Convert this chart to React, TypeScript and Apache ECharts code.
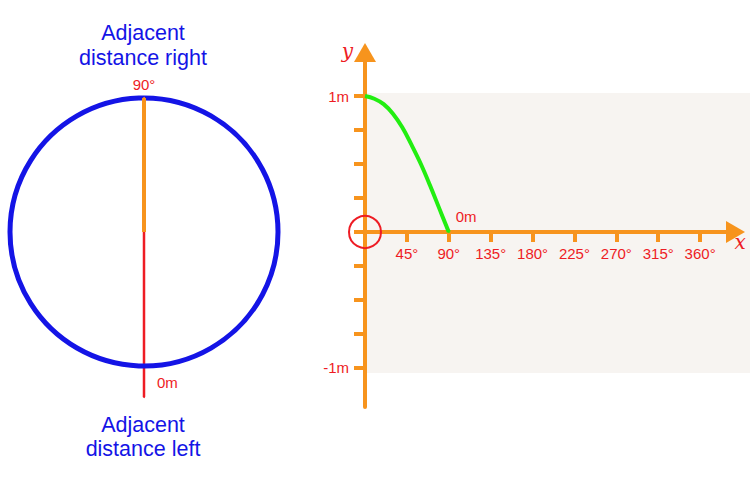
import React, { useEffect, useRef } from 'react';
import * as echarts from 'echarts';

const ORANGE = '#f7941d';
const RED = '#ee1c24';
const BLUE = '#1414e6';
const GREEN = '#22ee11';

// right-hand chart
const xTickValues = [45, 90, 135, 180, 225, 270, 315, 360];
const yTickValues = [-1, -0.75, -0.5, -0.25, 0, 0.25, 0.5, 0.75, 1];
const yLabelValues = [-1, 1];
const curveAngles = [0, 10, 20, 30, 40, 50, 60, 70, 80, 90];
const curveValues = [1, 0.98, 0.94, 0.87, 0.77, 0.64, 0.5, 0.34, 0.17, 0];
const origin = [[0, 0]];

// left-hand circle, [radius, angle]
const rightSegment = [[0, 90], [1, 90]];
const leftSegment = [[0, 270], [1.23, 270]];
const topLabel = '90°';
const bottomLabel = '0m';
const topTitle = ['Adjacent', 'distance right'];
const bottomTitle = ['Adjacent', 'distance left'];

const titleText = (text: string, y: number) => ({
  type: 'text',
  x: 143,
  y,
  style: {
    text,
    fill: BLUE,
    font: '21.5px "Liberation Sans", Arial, sans-serif',
    textAlign: 'center',
    textVerticalAlign: 'middle'
  }
});

const App: React.FC = () => {
  const chartRef = useRef<HTMLDivElement>(null);

  useEffect(() => {
    if (!chartRef.current) return;
    const chart = echarts.init(chartRef.current, undefined, { renderer: 'svg' });

    const curveData: any[] = curveAngles.map((a, i) => [a, curveValues[i]]);
    const last = curveData.length - 1;
    curveData[last] = {
      value: curveData[last],
      symbol: 'circle',
      symbolSize: 2,
      label: {
        show: true,
        formatter: '0m',
        position: 'right',
        distance: 6,
        offset: [0, -15],
        color: RED,
        fontSize: 15
      }
    };

    const option: echarts.EChartsOption = {
      animation: false,
      textStyle: { fontFamily: 'Liberation Sans, Arial, sans-serif' },
      graphic: [
        titleText(topTitle[0], 33),
        titleText(topTitle[1], 57.5),
        titleText(bottomTitle[0], 424.5),
        titleText(bottomTitle[1], 448.5)
      ],
      polar: [
        { center: [144, 232], radius: 134 },
        { center: [144, 232], radius: 165 }
      ],
      angleAxis: [
        {
          polarIndex: 0,
          type: 'value',
          min: 0,
          max: 360,
          startAngle: 0,
          clockwise: false,
          z: 3,
          axisLine: { lineStyle: { color: BLUE, width: 5 } },
          axisTick: { show: false },
          axisLabel: { show: false },
          splitLine: { show: false }
        },
        {
          polarIndex: 1,
          type: 'value',
          min: 0,
          max: 360,
          startAngle: 0,
          clockwise: false,
          show: false
        }
      ],
      radiusAxis: [
        { polarIndex: 0, min: 0, max: 1, show: false },
        { polarIndex: 1, min: 0, max: 1.23, show: false }
      ],
      grid: [
        { left: 365, right: 14.5, top: 52.5, bottom: 93 },
        {
          left: 366,
          right: 0,
          top: 93,
          bottom: 127,
          show: true,
          z: -1,
          backgroundColor: '#f7f4f1',
          borderWidth: 0
        }
      ],
      xAxis: [
        {
          type: 'value',
          min: 0,
          max: 398,
          position: 'bottom',
          offset: -175,
          axisLine: {
            onZero: false,
            lineStyle: { color: ORANGE, width: 4 },
            symbol: ['none', 'triangle'],
            symbolSize: [22, 19]
          },
          axisTick: {
            customValues: xTickValues,
            length: 10,
            lineStyle: { color: ORANGE, width: 4 }
          },
          axisLabel: {
            customValues: xTickValues,
            formatter: (v: number) => `${v}°`,
            color: RED,
            fontSize: 15,
            margin: 14
          },
          splitLine: { show: false },
          name: 'x',
          nameLocation: 'end',
          nameGap: -1,
          nameTextStyle: {
            color: RED,
            fontFamily: 'DejaVu Serif, Liberation Serif, serif',
            fontStyle: 'italic',
            fontSize: 20,
            align: 'left',
            verticalAlign: 'top'
          }
        },
        { gridIndex: 1, type: 'value', show: false }
      ],
      yAxis: [
        {
          type: 'value',
          min: -1.287,
          max: 1.32,
          axisLine: {
            onZero: false,
            lineStyle: { color: ORANGE, width: 4 },
            symbol: ['none', 'triangle'],
            symbolSize: [22, 19]
          },
          axisTick: {
            customValues: yTickValues,
            length: 11,
            lineStyle: { color: ORANGE, width: 4 }
          },
          axisLabel: {
            customValues: yLabelValues,
            formatter: (v: number) => `${v}m`,
            color: RED,
            fontSize: 15,
            margin: 16
          },
          splitLine: { show: false },
          name: 'y',
          nameLocation: 'end',
          nameGap: 2,
          nameTextStyle: {
            color: RED,
            fontFamily: 'DejaVu Serif, Liberation Serif, serif',
            fontStyle: 'italic',
            fontSize: 20,
            align: 'right',
            verticalAlign: 'middle',
            padding: [0, 12, 0, 0]
          }
        },
        { gridIndex: 1, type: 'value', show: false }
      ],
      series: [
        {
          type: 'line',
          coordinateSystem: 'polar',
          polarIndex: 1,
          data: leftSegment.map((p, i) =>
            i === leftSegment.length - 1
              ? {
                  value: p,
                  symbol: 'circle',
                  symbolSize: 2,
                  label: {
                    show: true,
                    formatter: bottomLabel,
                    position: 'right',
                    distance: 12,
                    offset: [0, -15],
                    color: RED,
                    fontSize: 15
                  }
                }
              : p
          ),
          symbol: 'none',
          showSymbol: true,
          clip: false,
          z: 2,
          itemStyle: { color: RED },
          lineStyle: { color: RED, width: 2.5 }
        },
        {
          type: 'line',
          coordinateSystem: 'polar',
          polarIndex: 0,
          data: rightSegment.map((p, i) =>
            i === rightSegment.length - 1
              ? {
                  value: p,
                  symbol: 'circle',
                  symbolSize: 2,
                  label: {
                    show: true,
                    formatter: topLabel,
                    position: 'top',
                    distance: 5,
                    color: RED,
                    fontSize: 15
                  }
                }
              : p
          ),
          symbol: 'none',
          showSymbol: true,
          clip: false,
          z: 4,
          itemStyle: { color: ORANGE },
          lineStyle: { color: ORANGE, width: 4, cap: 'butt' }
        },
        {
          type: 'line',
          data: curveData,
          smooth: 0.4,
          symbol: 'none',
          showSymbol: true,
          clip: false,
          itemStyle: { color: GREEN },
          lineStyle: { color: GREEN, width: 4 }
        },
        {
          type: 'scatter',
          data: origin,
          symbol: 'circle',
          symbolSize: 32,
          z: 5,
          itemStyle: {
            color: 'rgba(0,0,0,0)',
            borderColor: RED,
            borderWidth: 2,
            opacity: 1
          }
        }
      ]
    };

    chart.setOption(option);

    return () => {
      chart.dispose();
    };
  }, []);

  return (
    <div
      ref={chartRef}
      style={{ position: 'absolute', left: 0, top: 0, width: '750px', height: '500px' }}
    />
  );
};

export default App;
